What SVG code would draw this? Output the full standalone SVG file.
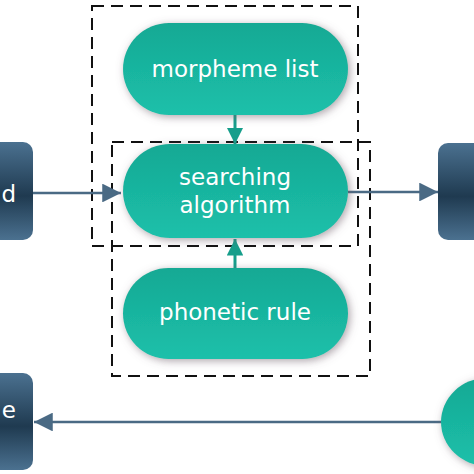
<svg xmlns="http://www.w3.org/2000/svg" width="474" height="474" viewBox="0 0 474 474">
<style>
.pill{fill:url(#teal);filter:url(#sh)}
.dark{fill:url(#navy)}
.lbl{font-family:"DejaVu Sans","Open Sans",sans-serif;font-size:23px;fill:#ffffff;text-anchor:middle}
.dash{fill:none;stroke:#111111;stroke-width:2;stroke-dasharray:12,7}
.con{stroke:#4a6a84;stroke-width:2.5;fill:none}
.tcon{stroke:#169e8b;stroke-width:3;fill:none}
</style>
<defs>
<linearGradient id="teal" x1="0" y1="0" x2="0" y2="1">
<stop offset="0" stop-color="#16a994"/>
<stop offset="1" stop-color="#1cc0aa"/>
</linearGradient>
<linearGradient id="navy" x1="0" y1="0" x2="0" y2="1">
<stop offset="0" stop-color="#4b7190"/>
<stop offset="0.55" stop-color="#1f3a50"/>
<stop offset="1" stop-color="#4b7190"/>
</linearGradient>
<filter id="sh" x="-20%" y="-30%" width="140%" height="160%">
<feGaussianBlur in="SourceAlpha" stdDeviation="4"/>
<feOffset dx="2" dy="2" result="b"/>
<feFlood flood-color="#6a5a66" flood-opacity="0.55"/>
<feComposite in2="b" operator="in"/>
<feMerge><feMergeNode/><feMergeNode in="SourceGraphic"/></feMerge>
</filter>
<marker id="ah" viewBox="0 0 10 10" refX="10" refY="5" markerWidth="8" markerHeight="7.5" markerUnits="strokeWidth" orient="auto">
<path d="M0,0 L10,5 L0,10 z" fill="#4a6a84"/>
</marker>
<marker id="th" viewBox="0 0 10 10" refX="10" refY="5" markerWidth="5.5" markerHeight="5.5" markerUnits="strokeWidth" orient="auto">
<path d="M0,0 L10,5 L0,10 z" fill="#169e8b"/>
</marker>
</defs>
<rect class="dash" x="92" y="6" width="266" height="240"/>
<rect class="dash" x="112" y="142" width="258" height="234"/>
<g id="connectors">
<line class="con" x1="33" y1="193" x2="121" y2="193" marker-end="url(#ah)"/>
<line class="con" x1="348" y1="192" x2="438" y2="192" marker-end="url(#ah)"/>
<line class="con" x1="442" y1="422" x2="34" y2="422" marker-end="url(#ah)"/>
<line class="tcon" x1="235" y1="115" x2="235" y2="144" marker-end="url(#th)"/>
<line class="tcon" x1="235" y1="268" x2="235" y2="239" marker-end="url(#th)"/>
</g>
<g id="node-word">
<rect class="dark" x="-20" y="142" width="53" height="98" rx="10"/>
<text class="lbl" x="16" y="202" style="text-anchor:end">d</text>
</g>
<g id="node-right">
<rect class="dark" x="438" y="143" width="60" height="97" rx="10"/>
</g>
<g id="node-bottom-left">
<rect class="dark" x="-20" y="373" width="53" height="97" rx="10"/>
<text class="lbl" x="16" y="418" style="text-anchor:end">e</text>
</g>
<g id="node-bottom-right">
<ellipse class="pill" cx="487" cy="422" rx="46" ry="44"/>
</g>
<g id="node-morpheme">
<rect class="pill" x="123" y="23" width="225" height="92" rx="46"/>
<text class="lbl" x="235" y="77">morpheme list</text>
</g>
<g id="node-searching">
<rect class="pill" x="123" y="144" width="225" height="94" rx="47"/>
<text class="lbl" x="235" y="185">searching<tspan x="235" dy="28">algorithm</tspan></text>
</g>
<g id="node-phonetic">
<rect class="pill" x="123" y="268" width="225" height="91" rx="45.5"/>
<text class="lbl" x="235" y="320">phonetic rule</text>
</g>
</svg>
